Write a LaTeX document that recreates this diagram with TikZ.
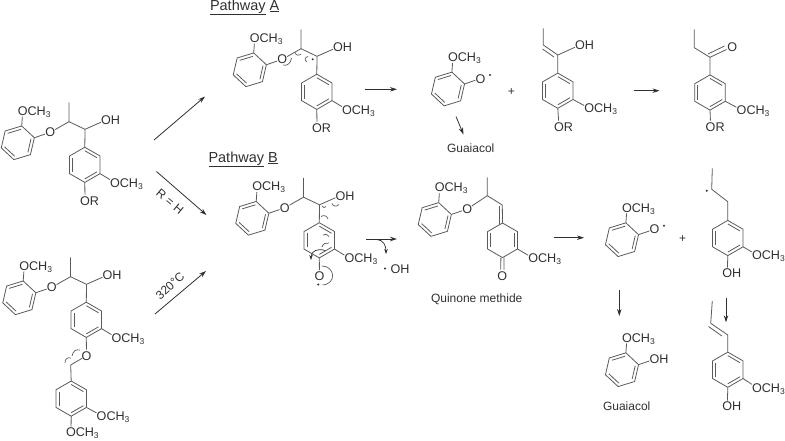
\documentclass[tikz,border=0pt]{standalone}
\usepackage{fontspec}
\setmainfont{Liberation Sans}
\usetikzlibrary{calc,arrows.meta}
\definecolor{bondc}{HTML}{5A5A5A}
\definecolor{textc}{HTML}{303030}
\tikzset{
  bond/.style={draw=bondc,line width=0.8pt,line join=round},
  curl/.style={draw=bondc,line width=0.7pt},
  curlarrow/.style={draw=textc,line width=0.7pt,-{Stealth[length=5pt,width=3.5pt]}},
  rxn/.style={draw=textc,line width=0.8pt,-{Stealth[length=7pt,width=4.5pt]}},
  atom/.style={inner sep=0pt,outer sep=0pt,text=textc,font=\fontsize{12.6}{15}\selectfont,anchor=base west},
  caption/.style={inner sep=0pt,outer sep=0pt,text=textc,font=\fontsize{12}{14}\selectfont},
  headline/.style={inner sep=0pt,outer sep=0pt,text=textc,font=\fontsize{14.5}{16}\selectfont,anchor=base west},
  radical/.style={circle,fill=textc,inner sep=0pt,minimum size=2.2pt},
}
\newcommand\subt{\raisebox{-2pt}{\fontsize{8.5}{9}\selectfont 3}}
\newcommand\och{OCH\subt}
% name, x, y of first letter centre, text
\newcommand\lab[4]{\coordinate (#1) at (#2,#3);\node[atom] (#1t) at ({#2-5},{#3+4.6}) {#4};}
% name, cx, cy, R, rot
\newcommand\hexa[5]{%
  \coordinate (#1c) at (#2,#3);
  \foreach \i in {1,...,6}{\coordinate (#1v\i) at ({#2+#4*cos(90+#5-60*(\i-1))},{#3-#4*sin(90+#5-60*(\i-1))});}
  \draw[bond] (#1v1)--(#1v2)--(#1v3)--(#1v4)--(#1v5)--(#1v6)--cycle;}
\newcommand\dbl[3]{\draw[bond] ($(#1v#2)!.2!(#1c)$) -- ($(#1v#3)!.2!(#1c)$);}
% upright aryl ring
\newcommand\aryl[3]{\hexa{#1}{#2}{#3}{17.6}{0}\dbl{#1}{5}{6}\dbl{#1}{1}{2}\dbl{#1}{3}{4}}
% tilted ring with methoxy and second oxygen substituent
\newcommand\guai[4]{%
  \begin{scope}[shift={(#2,#3)}]
    \hexa{#1}{0}{0}{17.3}{-13}\dbl{#1}{6}{1}\dbl{#1}{2}{3}\dbl{#1}{4}{5}
    \lab{#1m}{5}{-32.2}{\och}
    \lab{#1o}{32.5}{-10.5}{#4}
    \draw[bond,shorten >=6pt] (#1v1)--(#1m);
    \draw[bond,shorten >=5.5pt] (#1v2)--(#1o);
  \end{scope}}
% full aryl-ether skeleton in coordinates of the top-left molecule
\newcommand\skel[4]{%
  \begin{scope}[shift={(#2,#3)}]
    \guai{#1g}{17.8}{142.8}{O}
    \coordinate (#1ch) at (69,121.7);
    \coordinate (#1me) at (69,102.3);
    \coordinate (#1cb) at (85,129.3);
    \draw[bond,shorten <=5.5pt] (#1go)--(#1ch);
    \draw[bond] (#1me)--(#1ch)--(#1cb);
    \lab{#1oh}{106}{120}{OH}
    \draw[bond,shorten >=5.5pt] (#1cb)--(#1oh);
    \aryl{#1r}{84.8}{164.8}
    \draw[bond] (#1cb)--(#1rv1);
    \lab{#1mo}{115}{182.7}{\och}
    \draw[bond,shorten >=6pt] (#1rv3)--(#1mo);
    \lab{#1b}{85}{200.7}{#4}
    \draw[bond,shorten >=6pt] (#1rv4)--(#1b);
  \end{scope}}
\begin{document}
\begin{tikzpicture}[x=1pt,y=-1pt]
\useasboundingbox (0,0) rectangle (785,440);
\node[headline] (pa) at (210,10) {\underline{Pathway}\ \underline{A}};
\node[headline] (pb) at (208.5,162) {\underline{Pathway}\ \underline{B}};

% starting materials
\skel{ma}{0}{0}{OR}
\skel{mb}{1.5}{155}{O}
\coordinate (mbc) at (70.7,365);
\draw[bond,shorten <=5pt] (mbb)--(mbc);
\aryl{mbs}{71.2}{398.6}
\draw[bond] (mbc)--(mbsv1);
\lab{mbsa}{101.7}{415.7}{\och}
\lab{mbsb}{71}{431.5}{\och}
\draw[bond,shorten >=6pt] (mbsv3)--(mbsa);
\draw[bond,shorten >=5pt] (mbsv4)--(mbsb);
\draw[curl] (72,356) .. controls (73,351) and (76,349) .. (80,350);
\draw[curl] (65,363) .. controls (65,359) and (67,357) .. (71,358);

% pathway A radical
\skel{mc}{232}{-73}{OR}
\node[radical] (mcd) at (312.7,59.3) {};
\draw[curl] (283,65) .. controls (287,66.5) and (291,63) .. (291.5,58);
\draw[curl] (295,52.5) .. controls (296,55.5) and (299,56) .. (301,54.5);
\draw[curl] (307,62) .. controls (304,60) and (305,57) .. (308,56.5);

% pathway B radical
\skel{md}{234.5}{75.5}{O}
\node[radical] (mdd) at (318.3,284.5) {};
\draw[curl] (332,203.5) .. controls (333,206.5) and (337,207) .. (339,204.5);
\draw[curl] (322,206) .. controls (323,208) and (325,208) .. (326,206.5);
\draw[curl] (321,216.5) .. controls (324,214.5) and (327,216) .. (328,219);
\draw[curl] (323,235) .. controls (325,233.5) and (328,234) .. (329,236.5);
\draw[curl] (322,247) .. controls (323,243.5) and (326,242.5) .. (329,243);
\draw[curlarrow] (325,250.5) .. controls (318,248) and (311,251) .. (311,260);
\draw[curl] (322,266) .. controls (335,266) and (337,284) .. (322.5,285);
\coordinate (abs) at (366,239);
\coordinate (abe) at (397,239);
\draw[rxn] (abs)--(abe);
\draw[curlarrow] (377,239.5) .. controls (383,240) and (386,245) .. (386,254);
\node[radical] (ohd) at (385,268.5) {};
\lab{oh}{395.5}{269}{OH}

% reaction arrows
\coordinate (a1s) at (154,140); \coordinate (a1e) at (205,96.5);
\coordinate (a2s) at (156.5,171.5); \coordinate (a2e) at (206.5,215);
\coordinate (a3s) at (155,314); \coordinate (a3e) at (206,271);
\draw[rxn] (a1s)--(a1e);
\draw[rxn] (a2s)--(a2e);
\draw[rxn] (a3s)--(a3e);
\node[caption,rotate=-40] (rh) at (170,201.5) {R = H};
\node[caption,rotate=42] (tc) at (170,286) {320°C};

\coordinate (a4s) at (364.5,89.3); \coordinate (a4e) at (397,89.3);
\draw[rxn] (a4s)--(a4e);

% pathway A products
\guai{g1}{448}{89}{O}
\node[radical] (g1d) at (490,75) {};
\coordinate (a5s) at (456,116.5); \coordinate (a5e) at (463.5,134.5);
\draw[rxn] (a5s)--(a5e);
\node[caption] (gu1) at (470.7,148.3) {Guaiacol};
\node[caption] (pl1) at (511.3,91.7) {+};

\aryl{en}{557.8}{90.7}
\coordinate (enm) at (543.3,28.3);
\coordinate (en2) at (543.3,45);
\coordinate (en3) at (557.8,55);
\draw[bond] (enm)--(en2)--(en3)--(env1);
\draw[bond] (542.5,49)--(554,57);
\lab{eno}{580}{45}{OH}
\draw[bond,shorten >=5.5pt] (en3)--(eno);
\lab{enb}{589.3}{108.3}{\och}
\lab{enc}{559}{126.7}{OR}
\draw[bond,shorten >=6pt] (env3)--(enb);
\draw[bond,shorten >=6pt] (env4)--(enc);

\coordinate (a6s) at (633.5,90.7); \coordinate (a6e) at (659.5,90.7);
\draw[rxn] (a6s)--(a6e);

\aryl{ke}{710}{92.5}
\coordinate (kem) at (694.3,29.3);
\coordinate (ke2) at (694.3,47.7);
\coordinate (ke3) at (710,57.3);
\draw[bond] (kem)--(ke2)--(ke3)--(kev1);
\lab{keo}{732.3}{46.7}{O}
\draw[bond] (ke3)--(726.5,49.5);
\draw[bond] (708,54)--(724.5,46);
\lab{keb}{741.7}{110}{\och}
\lab{kec}{710.7}{126.7}{OR}
\draw[bond,shorten >=6pt] (kev3)--(keb);
\draw[bond,shorten >=6pt] (kev4)--(kec);

% quinone methide
\guai{q}{434.8}{219.5}{O}
\coordinate (qch) at (487.3,195.7);
\coordinate (qme) at (487.3,177.3);
\coordinate (qc) at (502.3,205);
\draw[bond,shorten <=5.5pt] (qo)--(qch);
\draw[bond] (qme)--(qch)--(qc);
\hexa{qr}{502.5}{240.3}{17.3}{0}
\dbl{qr}{5}{6}\dbl{qr}{2}{3}
\draw[bond] (qc)--(qrv1);
\draw[bond] (499.6,206)--(499.6,224.5);
\lab{qb}{533.3}{258.3}{\och}
\draw[bond,shorten >=6pt] (qrv3)--(qb);
\lab{qd}{502.3}{275.7}{O}
\draw[bond] ($(qrv4)+(-1.6,0)$)--(500.7,269.5);
\draw[bond] ($(qrv4)+(1.6,0)$)--(503.9,269.5);
\node[caption] (qm) at (476.7,299) {Quinone methide};

\coordinate (a7s) at (554,237.7); \coordinate (a7e) at (584,237.7);
\draw[rxn] (a7s)--(a7e);

% pathway B products
\guai{g2}{622}{239.7}{O}
\node[radical] (g2d) at (664,225.7) {};
\node[caption] (pl2) at (682.7,239.3) {+};
\aryl{pr}{727.8}{238}
\coordinate (prm) at (712.3,168.3);
\coordinate (pr2) at (711.7,189.3);
\coordinate (pr3) at (727.8,201.7);
\draw[bond] (prm)--(pr2)--(pr3)--(prv1);
\node[radical] (prd) at (706.7,190.7) {};
\lab{prb}{757}{255}{\och}
\lab{prc}{727.3}{272.7}{OH}
\draw[bond,shorten >=6pt] (prv3)--(prb);
\draw[bond,shorten >=5pt] (prv4)--(prc);

\coordinate (a8s) at (619.3,290); \coordinate (a8e) at (619.3,316);
\coordinate (a9s) at (726,298.3); \coordinate (a9e) at (726,322.3);
\draw[rxn] (a8s)--(a8e);
\draw[rxn] (a9s)--(a9e);

\guai{g3}{622}{369.7}{OH}
\node[caption] (gu2) at (626.7,406) {Guaiacol};

\aryl{is}{727.8}{369.7}
\coordinate (ism) at (712.3,301);
\coordinate (is2) at (710.7,323.3);
\coordinate (is3) at (727.8,335);
\draw[bond] (ism)--(is2)--(is3)--(isv1);
\draw[bond] (708.5,326.5)--(722,336);
\lab{isb}{757}{387.7}{\och}
\lab{isc}{727.3}{405.7}{OH}
\draw[bond,shorten >=6pt] (isv3)--(isb);
\draw[bond,shorten >=5pt] (isv4)--(isc);
\end{tikzpicture}
\end{document}
